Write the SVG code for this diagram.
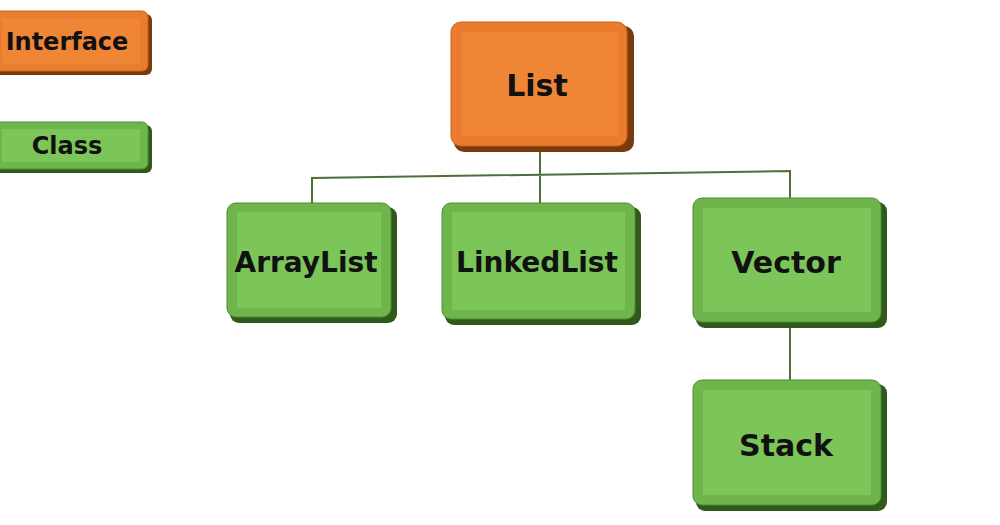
<svg xmlns="http://www.w3.org/2000/svg" width="1000" height="525" viewBox="0 0 1000 525">
<style>
text{font-family:"DejaVu Sans",sans-serif;font-weight:bold;fill:#111;text-anchor:middle;dominant-baseline:central}
.conn{stroke:#4e6e3a;stroke-width:2;fill:none}
.oS{fill:#7a3a0c}.oB{fill:#e97c2e;stroke:#c8621c;stroke-width:1}.oI{fill:#ee8636}
.gS{fill:#2f5a1c}.gB{fill:#6fb54c;stroke:#4f8e33;stroke-width:1}.gI{fill:#7cc558}
</style>
<rect width="1000" height="525" fill="#fff"/>
<g id="connectors" class="conn">
<path d="M540 150V174M312 203V178L790 171V198M540 174V203M790 327V380"/>
</g>
<g id="legend-interface"><rect x="-6" y="14" width="158" height="61" rx="6" class="oS"/><rect x="-6" y="11" width="154" height="60" rx="6" class="oB"/><rect x="2" y="18" width="138" height="46" class="oI"/><text x="67" y="42" font-size="24">Interface</text></g>
<g id="legend-class"><rect x="-6" y="125" width="158" height="48" rx="6" class="gS"/><rect x="-6" y="122" width="154" height="47" rx="6" class="gB"/><rect x="2" y="129" width="138" height="33" class="gI"/><text x="67" y="146" font-size="24">Class</text></g>
<g id="node-list"><rect x="454" y="26" width="180" height="126" rx="10" class="oS"/><rect x="451" y="22" width="176" height="124" rx="10" class="oB"/><rect x="462" y="32" width="156" height="104" class="oI"/><text x="537" y="85" font-size="30">List</text></g>
<g id="node-arraylist"><rect x="230" y="207" width="167" height="116" rx="9" class="gS"/><rect x="227" y="203" width="164" height="114" rx="9" class="gB"/><rect x="237" y="212" width="144" height="96" class="gI"/><text x="306" y="262" font-size="28">ArrayList</text></g>
<g id="node-linkedlist"><rect x="445" y="207" width="196" height="118" rx="9" class="gS"/><rect x="442" y="203" width="193" height="116" rx="9" class="gB"/><rect x="452" y="212" width="173" height="98" class="gI"/><text x="537" y="262" font-size="28">LinkedList</text></g>
<g id="node-vector"><rect x="696" y="202" width="191" height="126" rx="9" class="gS"/><rect x="693" y="198" width="188" height="124" rx="9" class="gB"/><rect x="703" y="208" width="168" height="104" class="gI"/><text x="786" y="262" font-size="30">Vector</text></g>
<g id="node-stack"><rect x="696" y="384" width="191" height="127" rx="9" class="gS"/><rect x="693" y="380" width="188" height="125" rx="9" class="gB"/><rect x="703" y="390" width="168" height="105" class="gI"/><text x="786" y="445" font-size="30">Stack</text></g>
</svg>
